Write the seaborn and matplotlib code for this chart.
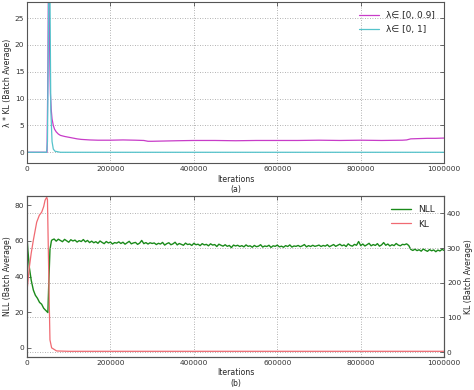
"""
Training curves: lambda-weighted KL (a) and NLL / KL (b) vs iterations.
"""
import numpy as np
import pandas as pd
import matplotlib
matplotlib.use("Agg")
import matplotlib.pyplot as plt
import seaborn as sns

# ---- (a) lambda * KL ----
lam09_x = [0, 48000, 50000, 52000, 54000, 56000, 58000, 60000, 63000, 66000,
           70000, 75000, 80000, 90000, 100000, 110000, 120000, 130000, 140000,
           150000, 170000, 200000, 230000, 260000, 280000, 290000, 300000,
           330000, 360000, 400000, 450000, 500000, 550000, 600000, 650000,
           700000, 750000, 800000, 850000, 900000, 910000, 920000, 940000,
           960000, 980000, 1000000]
lam09_y = [0, 0, 15, 40, 20, 11, 8, 6.2, 5.0, 4.3,
           3.8, 3.4, 3.15, 2.95, 2.8, 2.65, 2.5, 2.4, 2.35,
           2.3, 2.25, 2.25, 2.3, 2.25, 2.2, 2.05, 2.05,
           2.1, 2.15, 2.2, 2.2, 2.15, 2.2, 2.2, 2.2,
           2.25, 2.2, 2.25, 2.2, 2.25, 2.3, 2.5, 2.55,
           2.6, 2.6, 2.65]

lam1_x = [0, 47000, 49000, 51000, 53000, 55000, 57000, 60000, 63000, 67000,
          80000, 1000000]
lam1_y = [0, 0, 2, 20, 45, 30, 8, 2, 0.6, 0.2, 0, 0]

# ---- (b) NLL (left axis) and KL (right axis) ----
nll_head_x = [0, 2000, 5600, 10000, 15200, 20000, 25000, 30000, 35000, 40000,
              45000, 48000, 50000, 52000, 55000, 58500]
nll_head_y = [62, 55, 45, 38, 32.4, 29.5, 27.8, 25.5, 24.5, 22.2,
              21.0, 20.3, 19.8, 35, 55, 60]
nll_tail_y = [
    60.5, 61.0, 59.8, 60.9, 60.2, 59.5, 60.8, 60.0, 59.2, 60.6, 59.9, 60.4,
    59.3, 60.1, 59.6, 60.7, 59.4, 60.2, 59.0,
    59.8, 58.9, 59.5, 58.6, 59.9, 59.1, 58.4, 59.6, 58.8, 59.3, 58.2, 59.0,
    58.7, 59.4, 58.5, 59.2, 58.1, 58.9, 59.7, 58.3, 58.8, 59.1, 58.0, 58.7,
    60.2, 58.4, 59.0, 58.2, 58.9, 58.5,
    58.8, 57.9, 58.6, 58.2, 59.1, 57.6, 58.4, 58.9, 57.8, 58.3, 59.2, 57.7,
    58.5, 58.0, 57.5, 58.7, 57.9, 58.2, 57.4, 58.6, 57.8, 58.1, 57.3, 58.4,
    57.7, 58.0, 57.2, 58.3, 57.6, 57.9, 56.8, 58.1, 57.5, 57.0, 57.8, 56.9,
    57.4, 56.2, 57.6, 57.1,
    57.5, 56.8, 57.3, 56.6, 57.7, 56.9, 57.2, 56.4, 57.4, 56.7, 57.0, 57.8,
    56.5, 57.1, 56.8, 57.5, 56.3, 57.2, 56.9, 57.6, 56.6, 57.0, 56.4, 57.3,
    56.8, 57.7, 56.5, 57.1, 56.9, 57.4, 56.7, 57.2, 57.9, 56.6, 57.3, 56.8,
    57.5, 56.9, 57.2, 57.6,
    56.8, 57.4, 57.0, 57.8, 56.7, 57.3, 57.9, 56.9, 57.5, 58.1, 57.2, 57.7,
    56.8, 58.3, 57.4, 57.0, 58.0, 57.5, 59.6, 57.3, 58.2, 57.1, 57.8, 58.6,
    57.2, 57.9, 57.4, 58.4, 57.0, 57.7, 59.0, 57.5, 58.2, 57.1, 57.8, 57.3,
    58.5, 57.6, 57.2, 58.0,
    57.8, 58.3, 57.4, 55.2, 54.6, 55.3, 54.5, 55.0, 54.2, 55.4, 54.7, 54.1,
    55.1, 54.4, 54.9, 53.9, 54.8, 54.3, 55.2, 54.6,
]
nll_tail_x = np.arange(60000, 1000001, 5000)

kl_x = [0, 800, 5600, 10000, 15200, 23200, 29600, 35200, 40000, 43200, 47200,
        49000, 51000, 53500, 55000, 59000, 71000, 100000, 300000, 600000,
        900000, 1000000]
kl_y = [150, 187, 245, 285, 323, 375, 395, 404, 420, 438, 447,
        440, 300, 130, 35, 12, 3, 2, 2, 2, 2, 2]

ITER_TICKS = [0, 200000, 400000, 600000, 800000, 1000000]

C_MAG = "#c83cc8"
C_CYAN = "#55c3cb"
C_GREEN = "#1a8a1a"
C_RED = "#f06a72"
GRID = dict(ls=(0, (1, 2)), lw=0.6, color="#999999")

sns.set_style("white")
plt.rcParams["font.family"] = ["DejaVu Sans"]
plt.rcParams.update({
    "xtick.direction": "in", "ytick.direction": "in",
    "xtick.major.size": 3, "ytick.major.size": 3,
    "xtick.major.width": 0.5, "ytick.major.width": 0.5,
    "xtick.labelsize": 5.3, "ytick.labelsize": 5.3,
    "axes.labelsize": 5.6, "axes.edgecolor": "#555555",
    "axes.linewidth": 0.8,
})

fig = plt.figure(figsize=(4.74, 3.90), dpi=100)
ax1 = fig.add_axes([0.057, 0.582, 0.880, 0.413])
ax2 = fig.add_axes([0.057, 0.085, 0.880, 0.412])

# (a)
sns.lineplot(x=lam09_x, y=lam09_y, ax=ax1, color=C_MAG, lw=0.9,
             label="λ∈ [0, 0.9]")
sns.lineplot(x=lam1_x, y=lam1_y, ax=ax1, color=C_CYAN, lw=0.9,
             label="λ∈ [0, 1]")
ax1.set_xlim(0, 1000000)
ax1.set_ylim(-2, 28)
ax1.set_yticks([0, 5, 10, 15, 20, 25])
ax1.set_xticks(ITER_TICKS)
ax1.ticklabel_format(axis="x", style="plain", useOffset=False)
ax1.set_xlabel("Iterations\n(a)", labelpad=2)
ax1.set_ylabel("λ * KL (Batch Average)", labelpad=2)
ax1.grid(True, **GRID)
ax1.tick_params(top=True, right=True, pad=2, colors="#333333")
ax1.legend(loc="upper right", frameon=False, fontsize=6.5,
           handlelength=2.2, borderaxespad=0.6, labelspacing=0.6)

# (b)
nll_x = list(nll_head_x) + list(nll_tail_x)
nll_y = list(nll_head_y) + list(nll_tail_y)
ax2r = ax2.twinx()
sns.lineplot(x=nll_x, y=nll_y, ax=ax2, color=C_GREEN, lw=1.0, label="NLL",
             legend=False)
sns.lineplot(x=kl_x, y=kl_y, ax=ax2r, color=C_RED, lw=0.9, label="KL",
             legend=False)
ax2.set_xlim(0, 1000000)
ax2.set_ylim(-5, 85)
ax2.set_yticks([0, 20, 40, 60, 80])
ax2r.set_ylim(-14, 450)
ax2r.set_yticks([0, 100, 200, 300, 400])
ax2.set_xticks(ITER_TICKS)
ax2.ticklabel_format(axis="x", style="plain", useOffset=False)
ax2.set_xlabel("Iterations\n(b)", labelpad=2)
ax2.set_ylabel("NLL (Batch Average)", labelpad=2)
ax2r.set_ylabel("KL (Batch Average)", labelpad=2, fontsize=5.6)
ax2.tick_params(top=True, pad=2, colors="#333333", right=False)
ax2r.tick_params(pad=2, colors="#333333")
ax2r.grid(True, **GRID)
ax2.xaxis.grid(True, **GRID)
ax2.yaxis.grid(False)
h1, l1 = ax2.get_legend_handles_labels()
h2, l2 = ax2r.get_legend_handles_labels()
ax2r.legend(h1 + h2, l1 + l2, loc="upper right", frameon=False, fontsize=6.5,
            handlelength=2.2, borderaxespad=0.6, labelspacing=0.6)

fig.savefig("out.png", dpi=100)
